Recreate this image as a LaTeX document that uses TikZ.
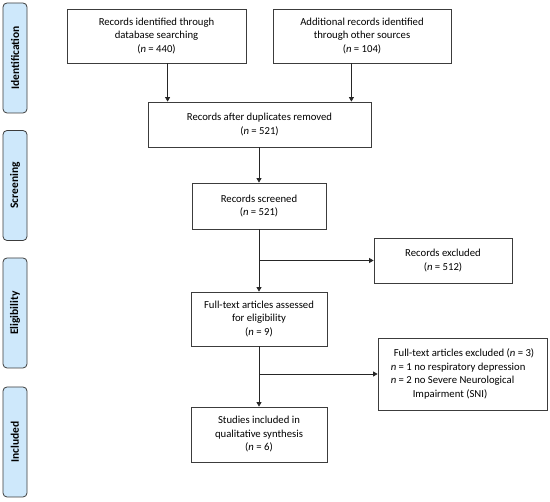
\documentclass[tikz,border=0pt]{standalone}
\usepackage{fontspec}
\setmainfont{Carlito}
\usetikzlibrary{arrows.meta}

\definecolor{phasefill}{RGB}{206,232,251}
\definecolor{edgegray}{RGB}{60,60,60}

\begin{document}
\begin{tikzpicture}[x=1pt, y=-1pt,
    box/.style={draw=edgegray, line width=0.8pt, align=center, inner sep=2pt,
        font=\fontsize{10.7}{13.5}\selectfont},
    phase/.style={draw=edgegray, fill=phasefill, rounded corners=4pt, line width=0.8pt,
        minimum width=110pt, minimum height=24pt, rotate=90,
        font=\bfseries\fontsize{11.5}{12}\selectfont},
    arr/.style={-{Triangle[length=4.5pt,width=5pt]}, line width=0.8pt, draw=black!85}]

    \useasboundingbox (0,0) rectangle (550,502);

    % Phase labels down the left side
    \foreach \name/\y/\txt in {ident/58/Identification, screen/185.5/Screening,
                               elig/313/Eligibility, incl/442/Included} {
        \node[phase] (\name) at (15, \y) {\txt};
    }

    % Identification
    \node[box, minimum width=179pt, minimum height=54pt] (dbase) at (156.5, 36)
        {Records identified through\\database searching\\(\textit{n} = 440)};
    \node[box, minimum width=178pt, minimum height=54pt] (other) at (362, 36)
        {Additional records identified\\through other sources\\(\textit{n} = 104)};

    % Screening
    \node[box, minimum width=223pt, minimum height=45pt] (dupes) at (259.5, 124.5)
        {Records after duplicates removed\\(\textit{n} = 521)};
    \node[box, minimum width=134pt, minimum height=46pt] (screened) at (259, 206)
        {Records screened\\(\textit{n} = 521)};
    \node[box, minimum width=138pt, minimum height=45pt] (recexcl) at (443, 260.5)
        {Records excluded\\(\textit{n} = 512)};

    % Eligibility
    \node[box, minimum width=136pt, minimum height=54pt] (fulltext) at (259, 319)
        {Full-text articles assessed\\for eligibility\\(\textit{n} = 9)};
    \node[box, align=left, minimum width=169pt, minimum height=72pt] (ftexcl) at (462.5, 374)
        {\hspace{3pt}Full-text articles excluded (\textit{n} = 3)\\
         \textit{n} = 1 no respiratory depression\\
         \textit{n} = 2 no Severe Neurological\\
         \hspace{22pt}Impairment (SNI)};

    % Included
    \node[box, minimum width=136pt, minimum height=55pt] (studies) at (259, 434.5)
        {Studies included in\\qualitative synthesis\\(\textit{n} = 6)};

    % Arrows
    \draw[arr] ([xshift=20pt]dupes.north west |- dbase.south) -- ([xshift=20pt]dupes.north west);
    \draw[arr] ([xshift=-20pt]dupes.north east |- other.south) -- ([xshift=-20pt]dupes.north east);
    \draw[arr] (dupes.south -| screened) -- (screened);
    \draw[arr] (screened) -- (fulltext);
    \draw[arr] (screened.south |- recexcl.west) -- (recexcl.west);
    \draw[arr] (fulltext) -- (studies);
    \draw[arr] (fulltext.south |- ftexcl.west) -- (ftexcl.west);

\end{tikzpicture}
\end{document}
